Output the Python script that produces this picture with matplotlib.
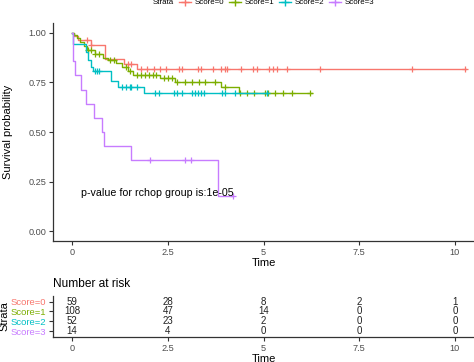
import numpy as np
import matplotlib
matplotlib.use("Agg")
import matplotlib.pyplot as plt
from matplotlib.lines import Line2D

plt.rcParams['font.family'] = ['Liberation Sans', 'DejaVu Sans']

# ---------------- data ----------------
strata = ["Score=0", "Score=1", "Score=2", "Score=3"]
colors = ["#F8766D", "#7CAE00", "#00BFC4", "#C77CFF"]

# Score=0
t0 = [0, 0.05, 0.15, 0.5, 0.85, 1.35, 1.7]
s0 = [1.0, 0.983, 0.966, 0.937, 0.87, 0.845, 0.82]
c0 = [0.4, 0.5, 1.45, 1.55, 1.8, 1.96, 2.15, 2.3, 2.45, 2.78, 2.88, 3.28, 3.38,
      3.68, 3.9, 4.0, 4.05, 4.4, 4.73, 4.83, 5.14, 5.24, 5.36, 5.62, 6.48, 8.88, 10.27]
end0 = 10.3

# Score=1
t1 = [0, 0.05, 0.12, 0.2, 0.3, 0.4, 0.6, 0.8, 0.95, 1.15, 1.3, 1.45, 1.6, 2.3, 2.7, 3.9, 4.35]
s1 = [1.0, 0.99, 0.972, 0.955, 0.935, 0.912, 0.895, 0.874, 0.862, 0.848, 0.83, 0.81,
      0.79, 0.772, 0.75, 0.727, 0.695]
c1 = [0.42, 0.5, 0.6, 0.7, 1.0, 1.1, 1.4, 1.5, 1.7, 1.8, 1.9, 2.0, 2.1, 2.2, 2.4, 2.5,
      2.6, 2.74, 2.96, 3.13, 3.31, 3.48, 3.74, 4.0, 4.39, 4.57, 4.74, 5.05, 5.13, 5.31,
      5.52, 5.74, 6.22]
end1 = 6.27

# Score=2
t2 = [0, 0.03, 0.36, 0.42, 0.48, 0.54, 1.02, 1.2, 1.88]
s2 = [1.0, 0.942, 0.904, 0.865, 0.827, 0.808, 0.758, 0.725, 0.697]
c2 = [0.6, 0.65, 0.7, 1.3, 1.4, 1.5, 1.55, 1.7, 2.17, 2.26, 2.65, 2.75, 2.88, 3.14,
      3.22, 3.3, 3.38, 3.45, 3.92, 4.0, 4.26, 5.1]
end2 = 5.13

# Score=3
t3 = [0, 0.03, 0.08, 0.23, 0.37, 0.57, 0.77, 0.82, 1.55, 3.81]
s3 = [1.0, 0.857, 0.786, 0.714, 0.643, 0.571, 0.5, 0.429, 0.357, 0.179]
c3 = [2.03, 2.96, 3.1, 4.2]
end3 = 4.2

risk_times = [0, 2.5, 5, 7.5, 10]
risk0 = [59, 28, 8, 2, 1]
risk1 = [108, 47, 14, 0, 0]
risk2 = [52, 23, 2, 0, 0]
risk3 = [14, 4, 0, 0, 0]

x_ticks = [0, 2.5, 5, 7.5, 10]
x_ticklabels = ["0", "2.5", "5", "7.5", "10"]
y_ticks = [0, 0.25, 0.5, 0.75, 1.0]
y_ticklabels = ["0.00", "0.25", "0.50", "0.75", "1.00"]

curves = [(t0, s0, c0, end0), (t1, s1, c1, end1), (t2, s2, c2, end2), (t3, s3, c3, end3)]
risks = [risk0, risk1, risk2, risk3]

# ---------------- figure ----------------
W, H = 474, 362
fig = plt.figure(figsize=(W / 100, H / 100), dpi=100)

def fx(px):
    return px / W

def fy(py):
    return 1 - py / H

axcol = "#333333"
tick_fs = 6.6
lab_fs = 8

ax = fig.add_axes([fx(53), fy(241), fx(474) - fx(53), fy(23) - fy(241)])
for (t, s, c, e), col in zip(curves, colors):
    tt = list(t) + [e]
    ss = list(s) + [s[-1]]
    ax.step(tt, ss, where="post", color=col, lw=1.0)
    idx = np.searchsorted(np.array(t), np.array(c), side="right") - 1
    cy = np.array(s)[idx]
    ax.plot(c, cy, ls="none", marker="+", ms=4.5, mew=0.9, color=col)

ax.set_xlim(-0.5, 10.5)
ax.set_ylim(-0.05, 1.05)
ax.set_xticks(x_ticks)
ax.set_xticklabels(x_ticklabels)
ax.set_yticks(y_ticks)
ax.set_yticklabels(y_ticklabels)
for sp in ["top", "right"]:
    ax.spines[sp].set_visible(False)
for sp in ["left", "bottom"]:
    ax.spines[sp].set_color(axcol)
    ax.spines[sp].set_linewidth(0.9)
ax.tick_params(axis="both", labelsize=tick_fs, colors=axcol, labelcolor="#4D4D4D",
               length=3, width=0.8, pad=2)
ax.set_xlabel("Time", fontsize=lab_fs, labelpad=1)
ax.set_ylabel("Survival probability", fontsize=lab_fs, labelpad=11)
ax.text(0.23, 0.19, "p-value for rchop group is:1e-05", fontsize=7.7,
        ha="left", va="center", color="black")

# legend (top, partly cut)
ly = fy(2.0)
leg_fs = 5.7
fig.text(fx(152.7), ly, "Strata", fontsize=leg_fs, ha="left", va="center")
sym_x = [185, 235, 285, 335]
txt_x = [195, 245, 295, 345]
for sx, tx, col, lab in zip(sym_x, txt_x, colors, strata):
    fig.add_artist(Line2D([fx(sx - 6), fx(sx + 6)], [ly, ly], color=col, lw=1.0,
                          transform=fig.transFigure))
    fig.add_artist(Line2D([fx(sx)], [ly], color=col, marker="+", ms=6, mew=1.0,
                          transform=fig.transFigure))
    fig.text(fx(tx), ly, lab, fontsize=leg_fs, ha="left", va="center")

# risk table
rax = fig.add_axes([fx(53), fy(336.9), fx(474) - fx(53), fy(295.8) - fy(336.9)])
rax.set_xlim(-0.5, 10.5)
rax.set_ylim(0.4, 4.6)
for i, (r, col) in enumerate(zip(risks, colors)):
    ypos = 4 - i
    for xt, v in zip(risk_times, r):
        rax.text(xt, ypos, str(v), ha="center", va="center", fontsize=7.0, color="#222222")
rax.set_yticks([4, 3, 2, 1])
rax.set_yticklabels(strata)
rax.set_xticks(x_ticks)
rax.set_xticklabels(x_ticklabels)
for sp in ["top", "right"]:
    rax.spines[sp].set_visible(False)
for sp in ["left", "bottom"]:
    rax.spines[sp].set_color(axcol)
    rax.spines[sp].set_linewidth(0.9)
rax.tick_params(axis="x", labelsize=tick_fs, colors=axcol, labelcolor="#4D4D4D",
                length=3, width=0.8, pad=2)
rax.tick_params(axis="y", labelsize=6.8, colors=axcol, length=3, width=0.8, pad=2)
for lbl, col in zip(rax.get_yticklabels(), colors):
    lbl.set_color(col)
rax.set_xlabel("Time", fontsize=lab_fs, labelpad=1)
rax.set_ylabel("Strata", fontsize=lab_fs, labelpad=1)
rax.set_title("Number at risk", fontsize=8.6, loc="left", pad=6)

fig.savefig("out.png", dpi=100)
